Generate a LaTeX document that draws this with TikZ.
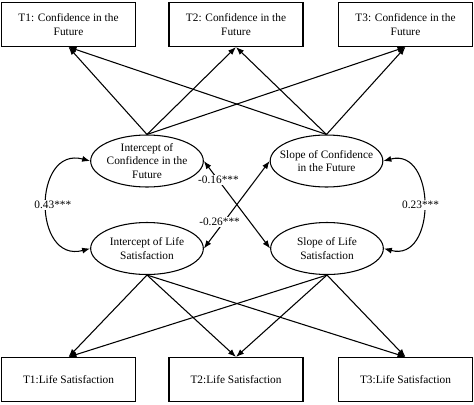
\documentclass[tikz,border=0pt]{standalone}
\usepackage{fontspec}
\setmainfont{Liberation Serif}
\usetikzlibrary{arrows.meta,shapes.geometric}

\begin{document}
\begin{tikzpicture}[x=0.75pt,y=0.75pt,yscale=-1,xscale=1,
  font=\fontsize{8.5}{9.9}\selectfont,
  obsbox/.style={draw, line width=0.8pt, minimum width=100.5pt, minimum height=33pt, align=center, inner sep=0.75pt},
  latent/.style={draw, line width=0.8pt, ellipse, minimum width=84.5pt, minimum height=39pt, align=center, inner xsep=-6pt, inner ysep=-2pt},
  load/.style={-{Latex[length=6pt,width=4.5pt]}, line width=0.8pt},
  cov/.style={{Latex[length=6pt,width=4.5pt]}-{Latex[length=6pt,width=4.5pt]}, line width=0.8pt},
  coef/.style={fill=white, inner sep=1pt}]
\useasboundingbox (0,0) rectangle (474,404);

%Observed: Confidence in the Future
\node [obsbox] (cf1) at (68.5,24.5) {T1: Confidence in the\\Future};
\node [obsbox] (cf2) at (236,24.5) {T2: Confidence in the\\Future};
\node [obsbox] (cf3) at (405.5,24.5) {T3: Confidence in the\\Future};
%Observed: Life Satisfaction
\node [obsbox] (ls1) at (68.5,379.5) {T1:Life Satisfaction};
\node [obsbox] (ls2) at (236,379.5) {T2:Life Satisfaction};
\node [obsbox] (ls3) at (405.5,379.5) {T3:Life Satisfaction};

%Latent factors
\node [latent] (icf) at (147,161) {Intercept of\\Confidence in the\\Future};
\node [latent] (scf) at (326.5,161) {Slope of Confidence\\in the Future};
\node [latent] (ils) at (147,248.5) {Intercept of Life\\Satisfaction};
\node [latent] (sls) at (327,248.5) {Slope of Life\\Satisfaction};

%Loadings up
\draw [load] (icf.north) -- (cf1.south);
\draw [load] (icf.north) -- (cf2.south);
\draw [load] (icf.north) -- (cf3.south);
\draw [load] (scf.north) -- (cf1.south);
\draw [load] (scf.north) -- (cf2.south);
\draw [load] (scf.north) -- (cf3.south);
%Loadings down
\draw [load] (ils.south) -- (ls1.north);
\draw [load] (ils.south) -- (ls2.north);
\draw [load] (ils.south) -- (ls3.north);
\draw [load] (sls.south) -- (ls1.north);
\draw [load] (sls.south) -- (ls2.north);
\draw [load] (sls.south) -- (ls3.north);

%Covariances
\draw [cov] (icf.west) to [out=195,in=165,looseness=1.75] node [coef,xshift=4.5pt] {0.43***} (ils.west);
\draw [cov] (scf.east) to [out=-15,in=15,looseness=1.6] node [coef,xshift=-2pt] {0.23***} (sls.east);
\draw [cov] (icf.east) -- node [coef,pos=0.22] {-0.16***} (sls.west);
\draw [cov] (ils.east) -- node [coef,pos=0.3,xshift=-3pt] {-0.26***} (scf.west);

\end{tikzpicture}
\end{document}
